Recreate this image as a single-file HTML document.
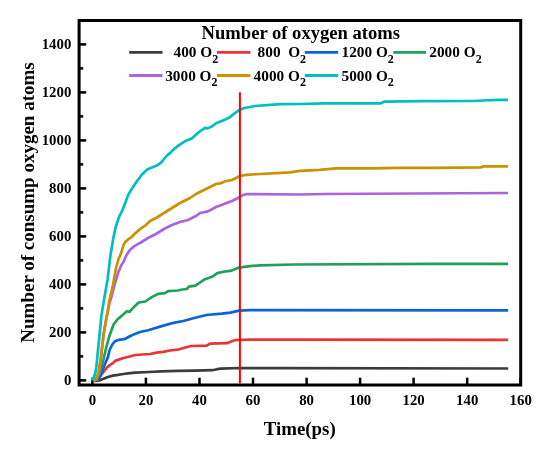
<!DOCTYPE html>
<html><head><meta charset="utf-8"><title>Number of consump oxygen atoms</title>
<style>
html,body{margin:0;padding:0;background:#fff;}
body{width:550px;height:452px;overflow:hidden;}
svg{display:block;}
</style></head><body>
<svg width="550" height="452" viewBox="0 0 550 452">
<rect width="550" height="452" fill="#fff"/>
<rect x="79.1" y="20.5" width="441.6" height="364.5" fill="none" stroke="#000" stroke-width="3"/>
<line x1="80" y1="380.4" x2="86.2" y2="380.4" stroke="#000" stroke-width="2.5"/>
<line x1="80" y1="356.4" x2="83.2" y2="356.4" stroke="#000" stroke-width="2.5"/>
<line x1="80" y1="332.4" x2="86.2" y2="332.4" stroke="#000" stroke-width="2.5"/>
<line x1="80" y1="308.4" x2="83.2" y2="308.4" stroke="#000" stroke-width="2.5"/>
<line x1="80" y1="284.4" x2="86.2" y2="284.4" stroke="#000" stroke-width="2.5"/>
<line x1="80" y1="260.4" x2="83.2" y2="260.4" stroke="#000" stroke-width="2.5"/>
<line x1="80" y1="236.4" x2="86.2" y2="236.4" stroke="#000" stroke-width="2.5"/>
<line x1="80" y1="212.4" x2="83.2" y2="212.4" stroke="#000" stroke-width="2.5"/>
<line x1="80" y1="188.4" x2="86.2" y2="188.4" stroke="#000" stroke-width="2.5"/>
<line x1="80" y1="164.4" x2="83.2" y2="164.4" stroke="#000" stroke-width="2.5"/>
<line x1="80" y1="140.4" x2="86.2" y2="140.4" stroke="#000" stroke-width="2.5"/>
<line x1="80" y1="116.4" x2="83.2" y2="116.4" stroke="#000" stroke-width="2.5"/>
<line x1="80" y1="92.4" x2="86.2" y2="92.4" stroke="#000" stroke-width="2.5"/>
<line x1="80" y1="68.4" x2="83.2" y2="68.4" stroke="#000" stroke-width="2.5"/>
<line x1="80" y1="44.4" x2="86.2" y2="44.4" stroke="#000" stroke-width="2.5"/>
<line x1="92.4" y1="384" x2="92.4" y2="377.7" stroke="#000" stroke-width="2.5"/>
<line x1="145.9" y1="384" x2="145.9" y2="377.7" stroke="#000" stroke-width="2.5"/>
<line x1="199.5" y1="384" x2="199.5" y2="377.7" stroke="#000" stroke-width="2.5"/>
<line x1="253.0" y1="384" x2="253.0" y2="377.7" stroke="#000" stroke-width="2.5"/>
<line x1="306.6" y1="384" x2="306.6" y2="377.7" stroke="#000" stroke-width="2.5"/>
<line x1="360.1" y1="384" x2="360.1" y2="377.7" stroke="#000" stroke-width="2.5"/>
<line x1="413.6" y1="384" x2="413.6" y2="377.7" stroke="#000" stroke-width="2.5"/>
<line x1="467.2" y1="384" x2="467.2" y2="377.7" stroke="#000" stroke-width="2.5"/>
<line x1="520.7" y1="384" x2="520.7" y2="377.7" stroke="#000" stroke-width="2.5"/>
<polyline points="93.0,380.9 94.6,380.9 99.1,380.4 103.5,378.7 107.9,377.0 113.0,375.6 118.0,374.9 123.4,374.0 128.0,373.4 135.4,372.6 148.8,372.0 160.9,371.3 177.6,370.8 195.0,370.6 212.3,370.2 217.0,369.2 220.9,368.6 239.6,368.0 275.0,368.2 508.2,368.5" fill="none" stroke="#3c3c3c" stroke-width="2.7" stroke-linejoin="round" stroke-linecap="butt"/>
<polyline points="93.5,380.4 98.0,379.8 101.3,374.8 104.6,370.4 107.4,367.1 110.1,364.9 113.0,363.2 115.1,360.9 122.7,358.3 135.4,355.0 150.0,354.0 156.6,352.6 163.3,351.9 169.9,350.5 179.2,349.3 186.3,347.2 191.4,346.0 206.7,345.6 210.0,343.6 227.0,343.2 232.4,341.0 236.0,340.0 250.0,339.7 293.6,339.6 508.2,339.8" fill="none" stroke="#eb3434" stroke-width="2.7" stroke-linejoin="round" stroke-linecap="butt"/>
<polyline points="93.5,380.4 98.5,379.2 101.8,372.6 104.6,364.9 107.9,357.1 109.6,350.0 112.0,345.0 114.9,341.2 118.9,339.8 124.2,339.2 130.9,335.8 135.0,333.9 140.0,332.0 148.2,330.2 160.9,326.4 173.6,322.8 183.3,321.0 193.3,318.3 206.4,315.0 221.6,313.7 230.4,312.6 239.1,310.6 250.0,310.2 508.2,310.4" fill="none" stroke="#0a64d8" stroke-width="2.7" stroke-linejoin="round" stroke-linecap="butt"/>
<polyline points="93.5,380.4 96.8,379.2 100.2,371.5 103.5,359.3 105.6,350.0 109.6,335.2 113.6,324.5 117.6,319.2 121.6,315.9 126.9,311.3 129.6,311.9 132.0,309.0 135.0,306.0 138.7,302.5 145.3,301.5 151.8,297.1 158.4,293.8 164.9,293.2 168.2,291.2 178.0,290.5 182.4,289.5 186.7,289.0 188.9,286.6 195.5,285.7 200.8,282.0 204.2,279.6 212.9,276.4 217.3,273.1 226.0,271.3 230.4,270.9 239.1,267.6 250.0,266.1 260.0,265.3 293.6,264.5 431.8,263.8 508.2,263.8" fill="none" stroke="#20a05a" stroke-width="2.7" stroke-linejoin="round" stroke-linecap="butt"/>
<polyline points="93.5,380.4 95.7,379.8 98.5,373.7 101.0,357.0 103.5,335.0 106.0,320.0 109.5,303.0 112.0,295.0 114.5,285.0 118.4,272.0 121.4,265.0 123.5,262.0 126.2,255.6 129.7,250.3 134.1,246.3 138.5,243.7 140.0,243.0 148.0,238.0 156.0,234.0 164.0,229.0 172.0,225.0 180.0,222.0 188.0,220.0 196.0,216.0 200.0,213.0 208.0,211.4 216.0,207.0 224.0,204.0 232.0,201.0 240.0,197.0 243.0,195.0 246.0,194.2 250.0,194.1 300.0,194.5 324.3,194.0 414.6,193.5 508.0,193.0" fill="none" stroke="#aa64e1" stroke-width="2.7" stroke-linejoin="round" stroke-linecap="butt"/>
<polyline points="93.5,380.4 95.7,379.8 98.5,373.7 101.0,357.0 103.5,335.0 106.5,318.0 109.5,300.0 113.0,285.0 116.0,268.0 118.6,259.0 120.8,253.9 123.5,245.0 125.3,241.9 127.9,239.7 131.5,237.0 135.0,233.5 138.5,230.4 140.0,229.2 146.0,225.0 150.0,221.0 156.0,218.0 164.0,213.0 172.0,208.0 180.0,203.0 190.0,198.0 196.0,194.0 204.0,190.0 210.0,187.0 216.0,184.0 220.0,183.4 226.0,181.0 232.0,180.0 238.0,177.0 240.0,176.0 244.0,175.2 250.0,174.6 260.0,174.0 290.0,172.4 300.0,170.8 319.5,169.8 336.5,168.4 373.0,168.4 397.4,167.9 434.0,167.9 480.3,167.4 484.0,166.4 508.0,166.4" fill="none" stroke="#cd9000" stroke-width="2.7" stroke-linejoin="round" stroke-linecap="butt"/>
<polyline points="91.2,379.8 93.2,378.8 95.1,374.0 96.2,368.0 97.0,360.5 98.0,350.0 98.8,342.2 100.0,330.0 101.5,315.0 104.0,300.0 107.5,280.0 110.5,255.0 113.0,240.0 115.6,227.3 119.2,216.6 122.7,209.6 125.4,202.5 128.0,195.4 131.5,189.2 136.9,181.2 142.2,174.2 147.2,169.5 152.5,167.2 156.9,165.6 161.3,162.4 164.9,158.0 167.0,155.5 170.0,153.1 174.4,148.7 180.2,144.4 186.0,140.7 191.8,138.5 199.1,132.0 204.9,127.9 207.8,128.4 212.2,126.2 216.5,123.0 222.4,120.8 229.6,117.5 234.0,113.8 239.1,110.2 244.2,108.0 250.0,107.0 255.0,106.0 280.0,104.1 300.0,104.0 324.3,103.4 380.3,103.4 384.0,101.7 420.0,101.2 473.0,101.0 497.4,99.9 508.0,99.8" fill="none" stroke="#00bec3" stroke-width="2.7" stroke-linejoin="round" stroke-linecap="butt"/>
<line x1="239.9" y1="92.2" x2="239.9" y2="383.6" stroke="#ff0000" stroke-width="2"/>
<text x="71.3" y="385.3" text-anchor="end" font-size="14.8" font-family="'Liberation Serif', 'Times New Roman', serif" font-weight="bold">0</text>
<text x="71.3" y="337.3" text-anchor="end" font-size="14.8" font-family="'Liberation Serif', 'Times New Roman', serif" font-weight="bold">200</text>
<text x="71.3" y="289.3" text-anchor="end" font-size="14.8" font-family="'Liberation Serif', 'Times New Roman', serif" font-weight="bold">400</text>
<text x="71.3" y="241.3" text-anchor="end" font-size="14.8" font-family="'Liberation Serif', 'Times New Roman', serif" font-weight="bold">600</text>
<text x="71.3" y="193.3" text-anchor="end" font-size="14.8" font-family="'Liberation Serif', 'Times New Roman', serif" font-weight="bold">800</text>
<text x="71.3" y="145.3" text-anchor="end" font-size="14.8" font-family="'Liberation Serif', 'Times New Roman', serif" font-weight="bold">1000</text>
<text x="71.3" y="97.3" text-anchor="end" font-size="14.8" font-family="'Liberation Serif', 'Times New Roman', serif" font-weight="bold">1200</text>
<text x="71.3" y="49.3" text-anchor="end" font-size="14.8" font-family="'Liberation Serif', 'Times New Roman', serif" font-weight="bold">1400</text>
<text x="92.4" y="404.8" text-anchor="middle" font-size="14.8" font-family="'Liberation Serif', 'Times New Roman', serif" font-weight="bold">0</text>
<text x="145.9" y="404.8" text-anchor="middle" font-size="14.8" font-family="'Liberation Serif', 'Times New Roman', serif" font-weight="bold">20</text>
<text x="199.5" y="404.8" text-anchor="middle" font-size="14.8" font-family="'Liberation Serif', 'Times New Roman', serif" font-weight="bold">40</text>
<text x="253.0" y="404.8" text-anchor="middle" font-size="14.8" font-family="'Liberation Serif', 'Times New Roman', serif" font-weight="bold">60</text>
<text x="306.6" y="404.8" text-anchor="middle" font-size="14.8" font-family="'Liberation Serif', 'Times New Roman', serif" font-weight="bold">80</text>
<text x="360.1" y="404.8" text-anchor="middle" font-size="14.8" font-family="'Liberation Serif', 'Times New Roman', serif" font-weight="bold">100</text>
<text x="413.6" y="404.8" text-anchor="middle" font-size="14.8" font-family="'Liberation Serif', 'Times New Roman', serif" font-weight="bold">120</text>
<text x="467.2" y="404.8" text-anchor="middle" font-size="14.8" font-family="'Liberation Serif', 'Times New Roman', serif" font-weight="bold">140</text>
<text x="520.7" y="404.8" text-anchor="middle" font-size="14.8" font-family="'Liberation Serif', 'Times New Roman', serif" font-weight="bold">160</text>
<text x="299.7" y="434.6" text-anchor="middle" font-size="18.9" font-family="'Liberation Serif', 'Times New Roman', serif" font-weight="bold">Time(ps)</text>
<text transform="translate(33.5,202.5) rotate(-90)" x="0" y="0" text-anchor="middle" font-size="19" font-family="'Liberation Serif', 'Times New Roman', serif" font-weight="bold">Number of consump oxygen atoms</text>
<text x="300.8" y="39" text-anchor="middle" font-size="18.6" font-family="'Liberation Serif', 'Times New Roman', serif" font-weight="bold">Number of oxygen atoms</text>
<line x1="129.2" y1="52.3" x2="162.5" y2="52.3" stroke="#3c3c3c" stroke-width="2.8"/>
<text x="173.5" y="57.3" font-size="15.3" font-family="'Liberation Serif', 'Times New Roman', serif" font-weight="bold" xml:space="preserve">400 O<tspan font-size="12" dy="5.5">2</tspan></text>
<line x1="217" y1="52.3" x2="250.4" y2="52.3" stroke="#eb3434" stroke-width="2.8"/>
<text x="257.6" y="57.3" font-size="15.3" font-family="'Liberation Serif', 'Times New Roman', serif" font-weight="bold" xml:space="preserve">800 O<tspan font-size="12" dy="5.5">2</tspan></text>
<line x1="304.8" y1="52.3" x2="338.2" y2="52.3" stroke="#0a64d8" stroke-width="2.8"/>
<text x="341.5" y="57.3" font-size="15.3" font-family="'Liberation Serif', 'Times New Roman', serif" font-weight="bold" xml:space="preserve">1200 O<tspan font-size="12" dy="5.5">2</tspan></text>
<line x1="393.3" y1="52.3" x2="426" y2="52.3" stroke="#20a05a" stroke-width="2.8"/>
<text x="429.3" y="57.3" font-size="15.3" font-family="'Liberation Serif', 'Times New Roman', serif" font-weight="bold" xml:space="preserve">2000 O<tspan font-size="12" dy="5.5">2</tspan></text>
<line x1="129.2" y1="75.5" x2="162.5" y2="75.5" stroke="#aa64e1" stroke-width="2.8"/>
<text x="165.2" y="80.5" font-size="15.3" font-family="'Liberation Serif', 'Times New Roman', serif" font-weight="bold" xml:space="preserve">3000 O<tspan font-size="12" dy="5.5">2</tspan></text>
<line x1="217" y1="75.5" x2="250.4" y2="75.5" stroke="#cd9000" stroke-width="2.8"/>
<text x="253.6" y="80.5" font-size="15.3" font-family="'Liberation Serif', 'Times New Roman', serif" font-weight="bold" xml:space="preserve">4000 O<tspan font-size="12" dy="5.5">2</tspan></text>
<line x1="304.8" y1="75.5" x2="338.2" y2="75.5" stroke="#00bec3" stroke-width="2.8"/>
<text x="341.5" y="80.5" font-size="15.3" font-family="'Liberation Serif', 'Times New Roman', serif" font-weight="bold" xml:space="preserve">5000 O<tspan font-size="12" dy="5.5">2</tspan></text>
</svg>
</body></html>
